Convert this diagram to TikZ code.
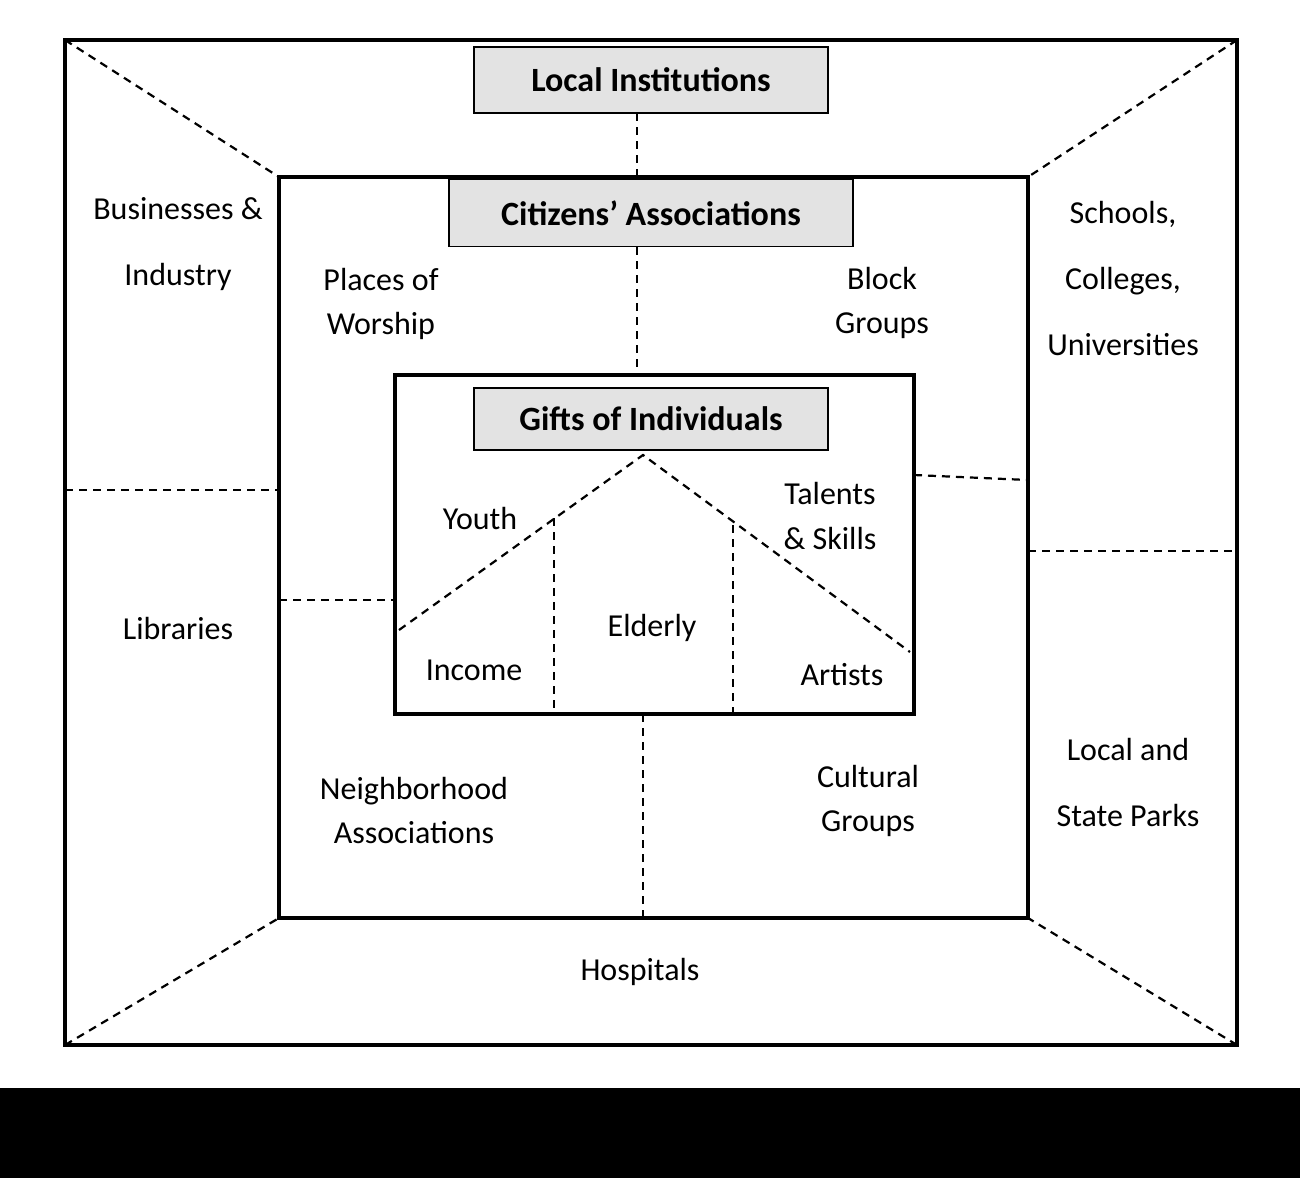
\documentclass[tikz,border=0pt]{standalone}
\usepackage{fontspec}
\setmainfont{Carlito}
\begin{document}
\begin{tikzpicture}[x=0.5pt,y=-0.5pt,
  frame/.style={line width=2.2pt},
  dl/.style={dashed,line width=1.1pt,dash pattern=on 4pt off 3pt},
  head/.style={draw,fill=gray!22,line width=0.6pt,font=\fontsize{17}{19}\selectfont\bfseries,inner sep=0pt},
  lab/.style={font=\fontsize{16}{22}\selectfont,align=center}]
\useasboundingbox (0,0) rectangle (1300,1178);
\fill[white] (0,0) rectangle (1300,1088);
\fill[black] (0,1088) rectangle (1300,1178);
% frames
\draw[frame] (65,40) rectangle (1237,1045);
\draw[frame] (279,177) rectangle (1028,918);
\draw[frame] (395,375) rectangle (914,714);
% corner dashes
\coordinate (o1) at (65,40); \coordinate (m1) at (279,177);
\coordinate (o2) at (1237,40); \coordinate (m2) at (1028,177);
\coordinate (o3) at (65,1045); \coordinate (m3) at (279,918);
\coordinate (o4) at (1237,1045); \coordinate (m4) at (1028,918);
\draw[dl] (o1)--(m1); \draw[dl] (o2)--(m2); \draw[dl] (o3)--(m3); \draw[dl] (o4)--(m4);
% headings
\node[head,minimum width=177pt,minimum height=33pt] (li) at (651,80) {Local Institutions};
\node[head,minimum width=202pt,minimum height=33.5pt] (ca) at (651,213) {Citizens’ Associations};
\node[head,minimum width=177pt,minimum height=31pt] (gi) at (651,419) {Gifts of Individuals};
\coordinate (c1) at (637,177); \coordinate (c2) at (637,375);
\draw[dl] (637,113)--(c1);
\draw[dl] (637,247)--(c2);
\draw[dl] (643,714)--(643,918);
% partitions
\draw[dl] (65,490)--(279,490);
\draw[dl] (1028,551)--(1237,551);
\draw[dl] (279,600)--(395,600);
\draw[dl] (914,475)--(1028,480);
\coordinate (r0) at (399,630); \coordinate (r1) at (643,455); \coordinate (r2) at (910,652);
\draw[dl] (r0)--(r1)--(r2);
\draw[dl] (554,518)--(554,714);
\draw[dl] (733,525)--(733,714);
% labels
\node[lab] (t1) at (178,244) {Businesses \&\\[11pt]Industry};
\node[lab] (t2) at (178,628) {Libraries};
\node[lab] (t3) at (1123,279) {Schools,\\[11pt]Colleges,\\[11pt]Universities};
\node[lab] (t4) at (1128,782) {Local and\\[11pt]State Parks};
\node[lab] (t5) at (640,972) {Hospitals};
\node[lab] (t6) at (381,304) {Places of\\Worship};
\node[lab] (t7) at (882,303) {Block\\Groups};
\node[lab] (t8) at (414,810) {Neighborhood\\Associations};
\node[lab] (t9) at (868,801) {Cultural\\Groups};
\node[lab] (t10) at (480,519) {Youth};
\node[lab] (t11) at (830,516) {Talents\\\& Skills};
\node[lab] (t12) at (652,628) {Elderly};
\node[lab] (t13) at (474,670) {Income};
\node[lab] (t14) at (842,675) {Artists};
\end{tikzpicture}
\end{document}
